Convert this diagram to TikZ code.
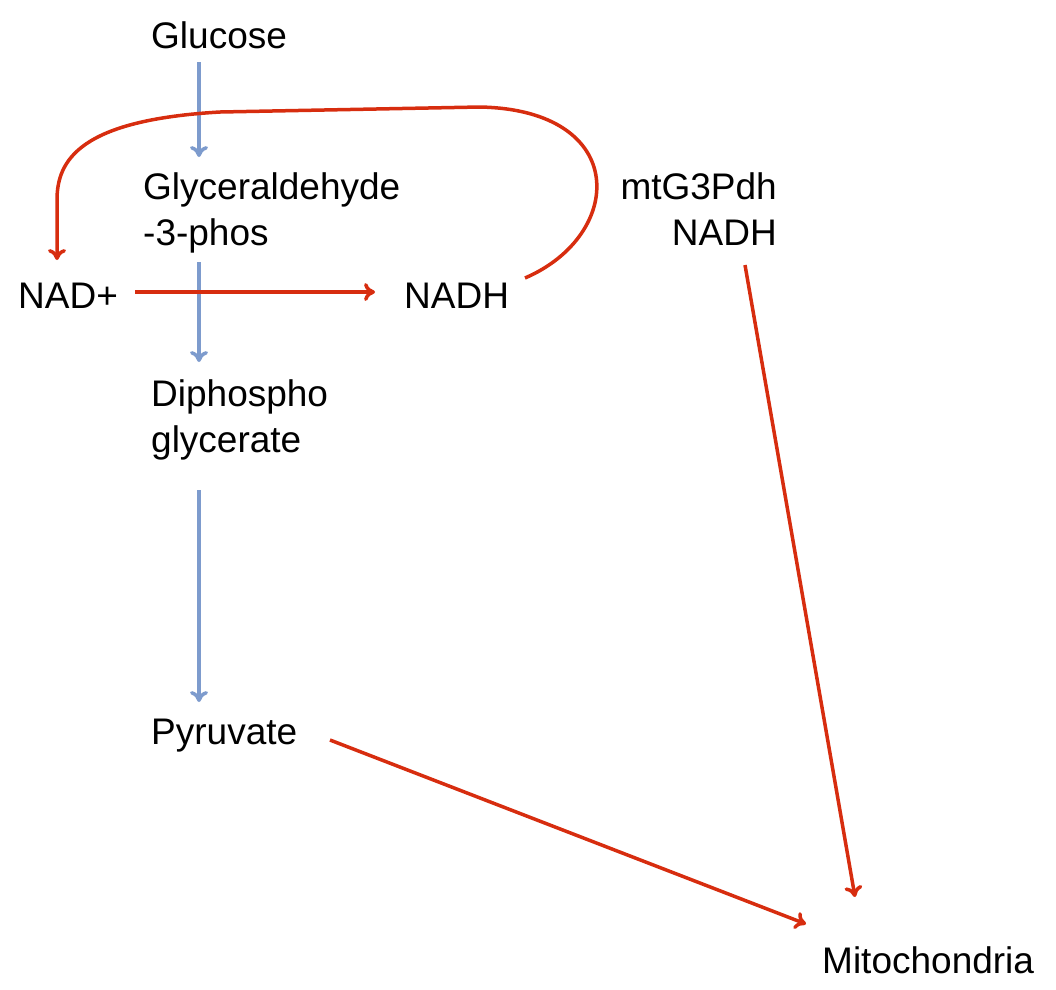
\documentclass[tikz,border=0pt]{standalone}
\usepackage{fontspec}
\setmainfont{Liberation Sans}
\usetikzlibrary{arrows.meta}
\definecolor{bl}{RGB}{125,155,205}
\definecolor{rd}{RGB}{215,45,15}
\begin{document}
\begin{tikzpicture}[x=1pt,y=-1pt,
  lbl/.style={inner sep=0pt,font=\fontsize{37}{46}\selectfont},
  ba/.style={draw=bl,line width=3.5pt,-{To[length=11pt,width=18pt]}},
  ra/.style={draw=rd,line width=3.5pt,-{To[length=11pt,width=18pt]}}]
\useasboundingbox (0,0) rectangle (1056,989);
\node[lbl,anchor=west] (glu) at (151,35) {Glucose};
\node[lbl,anchor=north west,align=left] (gap) at (143,172) {Glyceraldehyde\\-3-phos};
\node[lbl,anchor=west] (nad) at (18,296) {NAD+};
\node[lbl,anchor=west] (nadh) at (404,296) {NADH};
\node[lbl,anchor=north east,align=right] (mt) at (777,172) {mtG3Pdh\\NADH};
\node[lbl,anchor=north west,align=left] (dpg) at (151,379) {Diphospho\\glycerate};
\node[lbl,anchor=west] (pyr) at (151,736) {Pyruvate};
\node[lbl,anchor=west] (mito) at (822,960) {Mitochondria};
\coordinate (a1) at (199,62); \coordinate (a2) at (199,157);
\coordinate (b1) at (199,262); \coordinate (b2) at (199,362);
\coordinate (c1) at (199,490); \coordinate (c2) at (199,702);
\draw[ba] (a1) -- (a2);
\draw[ba] (b1) -- (b2);
\draw[ba] (c1) -- (c2);
\coordinate (n1) at (135,292); \coordinate (n2) at (375,292);
\draw[ra] (n1) -- (n2);
\coordinate (s) at (525,278);
\coordinate (e) at (57,260);
\draw[ra] (s) .. controls (625,235) and (630,110) .. (480,107)
  -- (220,112) .. controls (80,120) and (57,160) .. (57,200) -- (e);
\coordinate (m1) at (745,265); \coordinate (m2) at (855,897);
\draw[ra] (m1) -- (m2);
\coordinate (p1) at (330,740); \coordinate (p2) at (806,924);
\draw[ra] (p1) -- (p2);
\end{tikzpicture}
\end{document}
